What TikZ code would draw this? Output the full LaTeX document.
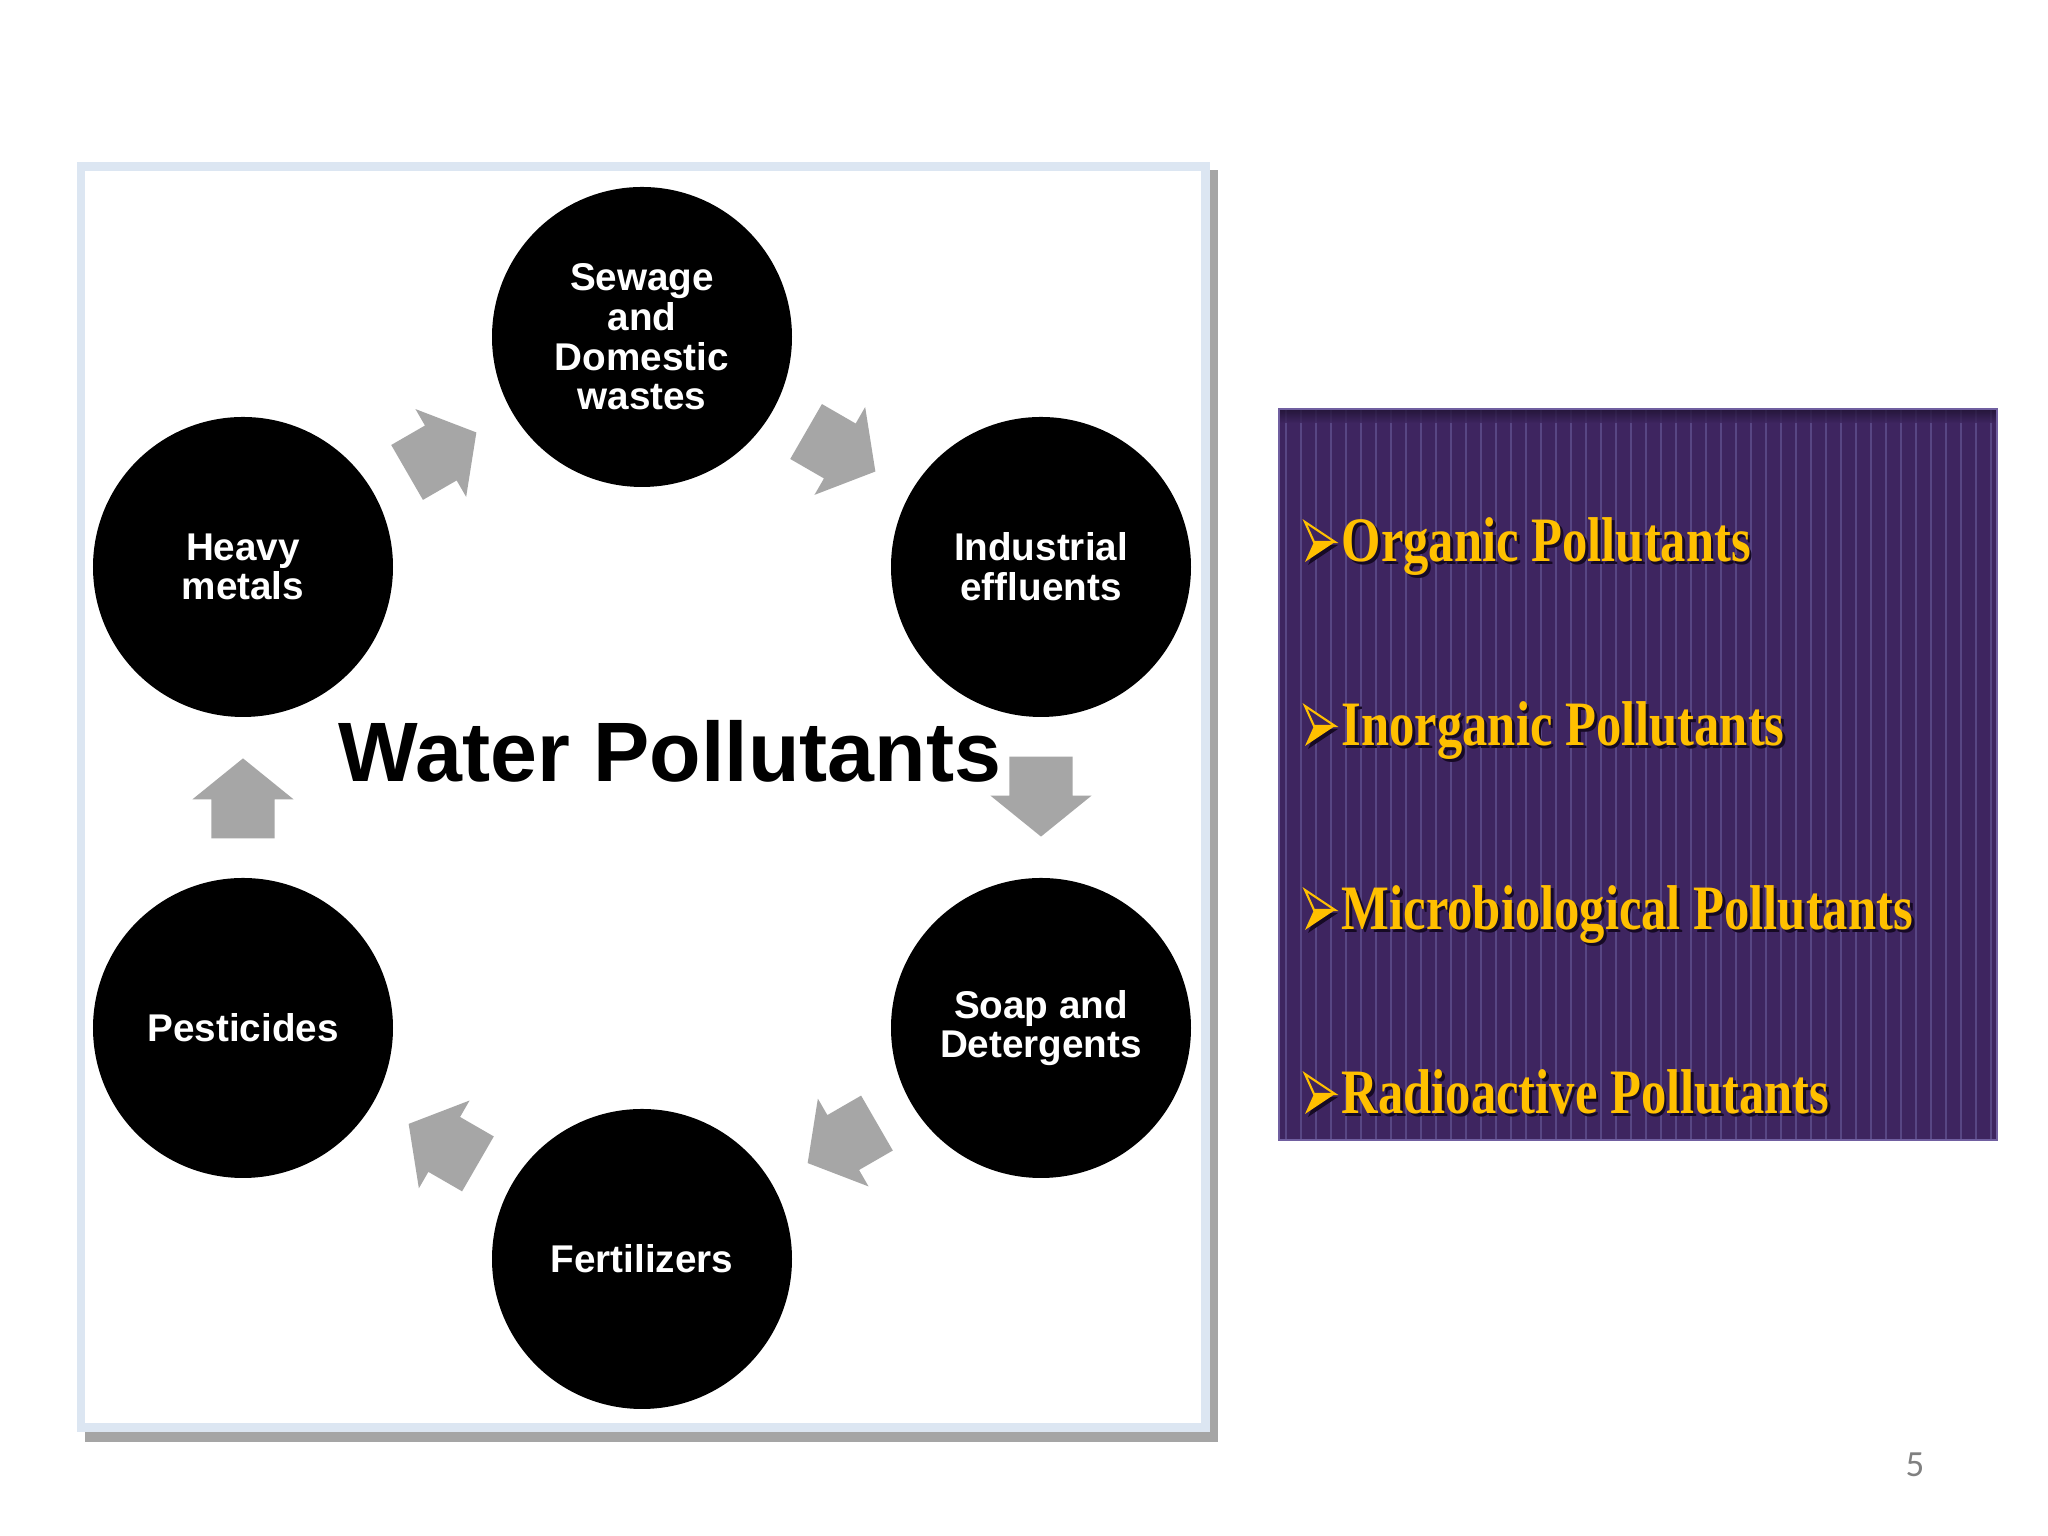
\documentclass[tikz,border=0pt]{standalone}
\usepackage{fontspec}
\usetikzlibrary{shapes.arrows,calc}
\newfontfamily\circlefont{Liberation Sans}
\newfontfamily\bulletfont[FakeStretch=0.8]{Liberation Serif}
\newfontfamily\pagefont{Carlito}
\definecolor{framegray}{RGB}{165,165,165}
\definecolor{frameblue}{RGB}{220,230,242}
\definecolor{arrowgray}{RGB}{166,166,166}
\definecolor{boxpurple}{RGB}{62,37,96}
\definecolor{boxdark}{RGB}{30,18,48}
\definecolor{stripepurple}{RGB}{88,70,132}
\definecolor{boxedge}{RGB}{112,95,160}
\definecolor{gold}{RGB}{255,192,0}
\definecolor{goldshadow}{RGB}{22,10,36}
\newcommand{\goldtext}[1]{\makebox[0pt][l]{\hspace{0.8pt}\raisebox{-0.8pt}{\color{goldshadow}#1}}#1}
\tikzset{
	bulletdart/.pic={
		\fill[goldshadow] (0.03,-0.03) -- (0.33,0.17) -- (0.12,0.17) -- cycle;
		\fill[gold] (0,0) -- (0.30,0.20) -- (0.09,0.20) -- cycle;
		\draw[gold, line width=0.6pt, line join=miter, fill=boxpurple] (0,0.40) -- (0.30,0.20) -- (0.09,0.20) -- cycle;
	}
}
\begin{document}
\begin{tikzpicture}[
	pollutant/.style={circle, fill=black, minimum size=3cm, inner sep=0pt, text=white, align=center, font=\circlefont\bfseries\fontsize{11}{11.3}\selectfont},
	cyclearrow/.style={single arrow, fill=arrowgray, draw=none, anchor=tip, minimum height=0.8cm, inner xsep=0pt, inner ysep=0.31cm, single arrow head extend=0.19cm, single arrow tip angle=102},
	bullettext/.style={anchor=base west, text=gold, inner sep=0pt, font=\bulletfont\bfseries\fontsize{18}{20}\selectfont}
	]
		\useasboundingbox (0,0) rectangle (20.48,15.36);
		%frame of the picture, with its shadow
		\fill[framegray] (0.85,0.94) rectangle (12.18,13.66);
		\fill[frameblue] (0.77,1.04) rectangle (12.10,13.74);
		\fill[white] (0.85,1.13) rectangle (12.01,13.65);

		%the six sources
		\node[pollutant] (sewage) at (6.42,11.99) {Sewage\\and\\Domestic\\wastes};
		\node[pollutant] (industrial) at (10.41,9.69) {Industrial\\effluents};
		\node[pollutant] (soap) at (10.41,5.08) {Soap and\\Detergents};
		\node[pollutant] (fertilizers) at (6.42,2.77) {Fertilizers};
		\node[pollutant] (pesticides) at (2.43,5.08) {Pesticides};
		\node[pollutant] (heavy) at (2.43,9.69) {Heavy\\metals};

		%arrows round the cycle, tip 4mm past the middle of each chord
		\node[cyclearrow, rotate=30] (heavy-sewage) at ($(heavy)!0.5!(sewage)!0.4cm!(sewage)$) {};
		\node[cyclearrow, rotate=-30] (sewage-industrial) at ($(sewage)!0.5!(industrial)!0.4cm!(industrial)$) {};
		\node[cyclearrow, rotate=-90] (industrial-soap) at ($(industrial)!0.5!(soap)!0.4cm!(soap)$) {};
		\node[cyclearrow, rotate=210] (soap-fertilizers) at ($(soap)!0.5!(fertilizers)!0.4cm!(fertilizers)$) {};
		\node[cyclearrow, rotate=150] (fertilizers-pesticides) at ($(fertilizers)!0.5!(pesticides)!0.4cm!(pesticides)$) {};
		\node[cyclearrow, rotate=90] (pesticides-heavy) at ($(pesticides)!0.5!(heavy)!0.4cm!(heavy)$) {};

		\node[font=\circlefont\bfseries\fontsize{24}{28}\selectfont] (title) at (6.70,7.85) {Water Pollutants};

		%purple panel
		\fill[boxpurple] (12.79,3.96) rectangle (19.97,11.27);
		\foreach \x in {12.86,13.01,...,19.92}
			\draw[stripepurple, line width=0.6pt] (\x,3.96) -- (\x,11.27);
		\shade[top color=boxdark, bottom color=boxpurple, opacity=0.8] (12.79,11.13) rectangle (19.97,11.27);
		\draw[boxedge, line width=0.6pt] (12.79,3.96) rectangle (19.97,11.27);

		\node[bullettext] (organic) at (13.41,9.74) {\goldtext{Organic Pollutants}};
		\node[bullettext] (inorganic) at (13.41,7.90) {\goldtext{Inorganic Pollutants}};
		\node[bullettext] (microbiological) at (13.41,6.06) {\goldtext{Microbiological Pollutants}};
		\node[bullettext] (radioactive) at (13.41,4.22) {\goldtext{Radioactive Pollutants}};
		\pic at ([xshift=-0.36cm]organic.base west) {bulletdart};
		\pic at ([xshift=-0.36cm]inorganic.base west) {bulletdart};
		\pic at ([xshift=-0.36cm]microbiological.base west) {bulletdart};
		\pic at ([xshift=-0.36cm]radioactive.base west) {bulletdart};

		\node[text=gray, font=\pagefont\fontsize{10.5}{12}\selectfont] (pagenum) at (19.15,0.71) {5};
	\end{tikzpicture}
\end{document}
